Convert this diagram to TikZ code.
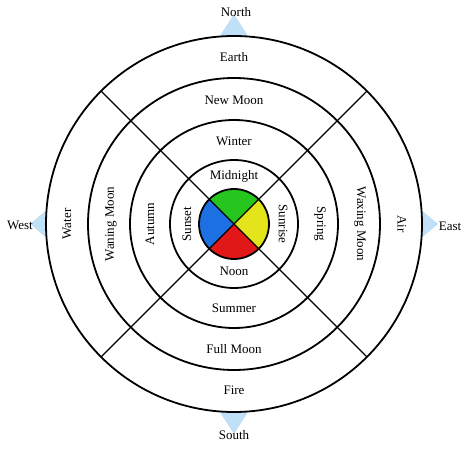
\documentclass[tikz,border=0pt]{standalone}
\usepackage{fontspec}
\setmainfont{Liberation Serif}
\definecolor{quadgreen}{RGB}{38,198,30}
\definecolor{quadyellow}{RGB}{228,228,28}
\definecolor{quadred}{RGB}{226,24,24}
\definecolor{quadblue}{RGB}{28,112,226}
\definecolor{pointerblue}{RGB}{192,224,248}

\begin{document}
\begin{tikzpicture}[x=1pt,y=1pt,
	ring/.style={line width=1.8pt},
	spoke/.style={line width=1.4pt},
	lbl/.style={font=\fontsize{13}{15}\selectfont, inner sep=0pt},
	pointer/.style={fill=pointerblue}]
	\useasboundingbox (0,0) rectangle (472,448);
	
	\coordinate (c) at (234,224);
	
	% compass pointers
	\fill[pointer] (218,409) -- (234,434) -- (250,409) -- cycle;
	\fill[pointer] (218,39) -- (234,14) -- (250,39) -- cycle;
	\fill[pointer] (49,208) -- (30,224) -- (49,240) -- cycle;
	\fill[pointer] (419,208) -- (438,224) -- (419,240) -- cycle;
	\fill[white] (c) circle (188);
	
	\node[lbl] (north) at (236,436) {North};
	\node[lbl] (south) at (234,13) {South};
	\node[lbl] (west) at (20,223) {West};
	\node[lbl] (east) at (450,222) {East};
	
	% centre disc
	\fill[quadgreen] (c) -- ++(45:35) arc (45:135:35) -- cycle;
	\fill[quadblue] (c) -- ++(135:35) arc (135:225:35) -- cycle;
	\fill[quadred] (c) -- ++(225:35) arc (225:315:35) -- cycle;
	\fill[quadyellow] (c) -- ++(315:35) arc (315:405:35) -- cycle;
	
	% rings and spokes
	\draw[ring] (c) circle (35);
	\draw[ring] (c) circle (64);
	\draw[ring] (c) circle (104);
	\draw[ring] (c) circle (146);
	\draw[ring] (c) circle (188);
	
	\draw[spoke] (c) -- ++(45:188);
	\draw[spoke] (c) -- ++(135:188);
	\draw[spoke] (c) -- ++(225:188);
	\draw[spoke] (c) -- ++(315:188);
	
	% top
	\node[lbl] (midnight) at ([shift={(90:48)}]c) {Midnight};
	\node[lbl] (winter) at ([shift={(90:83)}]c) {Winter};
	\node[lbl] (newmoon) at ([shift={(90:124)}]c) {New Moon};
	\node[lbl] (earth) at ([shift={(90:167)}]c) {Earth};
	
	% bottom
	\node[lbl] (noon) at ([shift={(270:47)}]c) {Noon};
	\node[lbl] (summer) at ([shift={(270:84)}]c) {Summer};
	\node[lbl] (fullmoon) at ([shift={(270:125)}]c) {Full Moon};
	\node[lbl] (fire) at ([shift={(270:166)}]c) {Fire};
	
	% left
	\node[lbl, rotate=90] (sunset) at ([shift={(180:47)}]c) {Sunset};
	\node[lbl, rotate=90] (autumn) at ([shift={(180:84)}]c) {Autumn};
	\node[lbl, rotate=90] (waning) at ([shift={(180:123)}]c) {Waning Moon};
	\node[lbl, rotate=90] (water) at ([shift={(180:167)}]c) {Water};
	
	% right
	\node[lbl, rotate=-90] (sunrise) at ([shift={(0:49)}]c) {Sunrise};
	\node[lbl, rotate=-90] (spring) at ([shift={(0:86)}]c) {Spring};
	\node[lbl, rotate=-90] (waxing) at ([shift={(0:126)}]c) {Waxing Moon};
	\node[lbl, rotate=-90] (air) at ([shift={(0:168)}]c) {Air};
	
\end{tikzpicture}
\end{document}
